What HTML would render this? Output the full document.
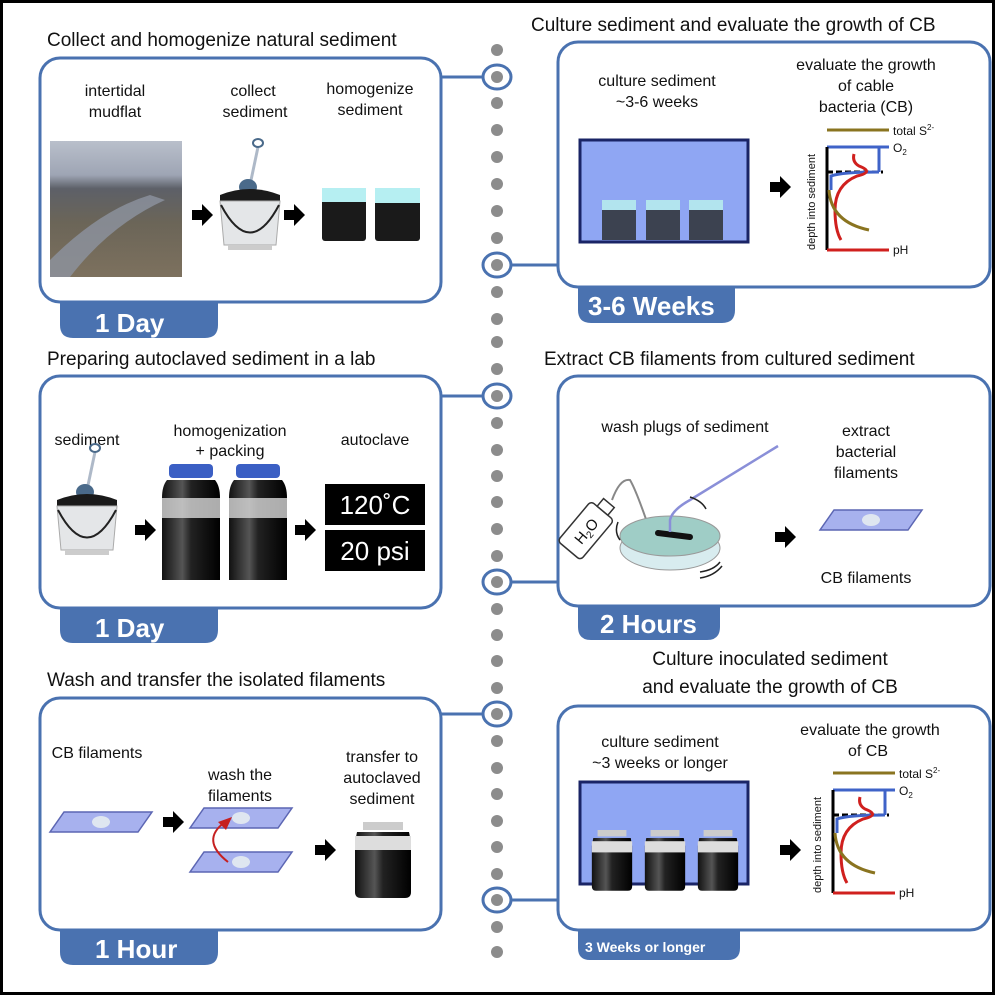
<!DOCTYPE html>
<html><head><meta charset="utf-8"><style>
html,body{margin:0;padding:0;background:#fff}
svg{display:block}
text{font-family:"Liberation Sans",Arial,sans-serif;fill:#111}
</style></head><body>
<svg width="996" height="996" viewBox="0 0 996 996" xmlns="http://www.w3.org/2000/svg">
<defs>
<linearGradient id="photo" x1="0" y1="0" x2="0" y2="1">
<stop offset="0" stop-color="#b9bfcb"/><stop offset="0.25" stop-color="#9ea5b4"/><stop offset="0.35" stop-color="#5d6068"/><stop offset="0.6" stop-color="#6b6558"/><stop offset="1" stop-color="#7d715e"/></linearGradient>
<linearGradient id="jarg" x1="0" y1="0" x2="1" y2="0"><stop offset="0" stop-color="#111"/><stop offset="0.35" stop-color="#555"/><stop offset="0.5" stop-color="#222"/><stop offset="1" stop-color="#000"/></linearGradient>
<g id="bucket">
<line x1="8" y1="-58" x2="0" y2="-20" stroke="#aeb9c8" stroke-width="3"/>
<ellipse cx="8" cy="-62" rx="5" ry="4" fill="none" stroke="#4a6a8a" stroke-width="2"/>
<ellipse cx="-2" cy="-18" rx="9" ry="8" fill="#4a6a8a"/>
<path d="M-30,-10 Q0,-22 30,-10 L30,-4 L-30,-4Z" fill="#1a1a1a"/>
<path d="M-30,-4 L30,-4 L26,40 L-26,40Z" fill="#e4e6e8" stroke="#aaa"/>
<path d="M-29,0 Q0,55 29,0" fill="none" stroke="#222" stroke-width="2"/>
<rect x="-22" y="40" width="44" height="5" fill="#ccc"/>
</g>
<g id="bottle">
<rect x="-22" y="0" width="44" height="14" rx="4" fill="#3b5fc4"/>
<path d="M-24,16 L24,16 Q29,22 29,34 L29,116 L-29,116 L-29,34 Q-29,22 -24,16Z" fill="url(#jarg)"/>
<rect x="-29" y="34" width="58" height="20" fill="#d8d8d8" opacity="0.8"/>
</g>
<g id="jar">
<rect x="-20" y="0" width="40" height="8" fill="#ccc"/>
<path d="M-26,10 L26,10 L28,20 L28,70 Q28,76 22,76 L-22,76 Q-28,76 -28,70 L-28,20Z" fill="url(#jarg)"/>
<rect x="-28" y="14" width="56" height="14" fill="#ddd"/>
</g>
<g id="slide">
<path d="M14,0 L102,0 L88,20 L0,20Z" fill="#a7b1ee" stroke="#5c66b3" stroke-width="1.5"/>
<ellipse cx="51" cy="10" rx="9" ry="6" fill="#dfe6f0"/>
</g>
<g id="arrow"><path d="M0,-5 L10,-5 L10,-11 L21,0 L10,11 L10,5 L0,5Z" fill="#000"/></g>
<g id="graph">
<line x1="0" y1="0" x2="62" y2="0" stroke="#8a7420" stroke-width="3"/>
<text x="66" y="5" font-size="12">total S<tspan font-size="8" dy="-5">2-</tspan></text>
<path d="M0,17 L62,17 M52,17 L52,42" stroke="#3f63c8" stroke-width="3" fill="none"/>
<text x="66" y="22" font-size="12">O<tspan font-size="8" dy="3">2</tspan></text>
<line x1="0" y1="17" x2="0" y2="120" stroke="#000" stroke-width="3"/>
<line x1="0" y1="42" x2="56" y2="42" stroke="#000" stroke-width="3" stroke-dasharray="6,3"/>
<path d="M52,42 Q15,42 4,46 L4,60" stroke="#3f63c8" stroke-width="3" fill="none"/>
<path d="M27,24 Q25,32 32,36 Q48,42 30,46 Q8,55 8,80 Q8,100 14,110" stroke="#d0201e" stroke-width="3" fill="none"/>
<path d="M2,60 Q4,92 42,100" stroke="#8a7420" stroke-width="3" fill="none"/>
<line x1="0" y1="120" x2="62" y2="120" stroke="#d0201e" stroke-width="3"/>
<text x="66" y="124" font-size="12">pH</text>
<text transform="translate(-12,120) rotate(-90)" font-size="11">depth into sediment</text>
</g>
<g id="tank">
<rect x="0" y="0" width="168" height="102" fill="#8fa6f3" stroke="#1a2466" stroke-width="3"/>
</g>
</defs>

<rect x="1.5" y="1.5" width="992" height="992" fill="none" stroke="#000" stroke-width="3"/>

<g fill="#8c8c8c">
<circle cx="497" cy="50" r="6"/><circle cx="497" cy="77" r="6"/><circle cx="497" cy="103" r="6"/><circle cx="497" cy="130" r="6"/><circle cx="497" cy="157" r="6"/><circle cx="497" cy="184" r="6"/><circle cx="497" cy="211" r="6"/><circle cx="497" cy="238" r="6"/><circle cx="497" cy="265" r="6"/><circle cx="497" cy="292" r="6"/><circle cx="497" cy="319" r="6"/><circle cx="497" cy="342" r="6"/><circle cx="497" cy="369" r="6"/><circle cx="497" cy="396" r="6"/><circle cx="497" cy="423" r="6"/><circle cx="497" cy="450" r="6"/><circle cx="497" cy="476" r="6"/><circle cx="497" cy="502" r="6"/><circle cx="497" cy="529" r="6"/><circle cx="497" cy="556" r="6"/><circle cx="497" cy="582" r="6"/><circle cx="497" cy="609" r="6"/><circle cx="497" cy="635" r="6"/><circle cx="497" cy="661" r="6"/><circle cx="497" cy="688" r="6"/><circle cx="497" cy="714" r="6"/><circle cx="497" cy="741" r="6"/><circle cx="497" cy="768" r="6"/><circle cx="497" cy="794" r="6"/><circle cx="497" cy="821" r="6"/><circle cx="497" cy="847" r="6"/><circle cx="497" cy="874" r="6"/><circle cx="497" cy="900" r="6"/><circle cx="497" cy="927" r="6"/><circle cx="497" cy="952" r="6"/>
</g>
<g fill="none" stroke="#4a72b0" stroke-width="3">
<ellipse cx="497" cy="77" rx="14" ry="12"/><ellipse cx="497" cy="265" rx="14" ry="12"/>
<ellipse cx="497" cy="396" rx="14" ry="12"/><ellipse cx="497" cy="582" rx="14" ry="12"/>
<ellipse cx="497" cy="714" rx="14" ry="12"/><ellipse cx="497" cy="900" rx="14" ry="12"/>
<line x1="441" y1="77" x2="483" y2="77"/><line x1="511" y1="265" x2="558" y2="265"/>
<line x1="441" y1="396" x2="483" y2="396"/><line x1="511" y1="582" x2="558" y2="582"/>
<line x1="441" y1="714" x2="483" y2="714"/><line x1="511" y1="900" x2="558" y2="900"/>
</g>

<g fill="#4a72b0">
<path d="M60,302 L218,302 L218,325 Q218,338 205,338 L73,338 Q60,338 60,325Z"/>
<path d="M578,287 L735,287 L735,310 Q735,323 722,323 L591,323 Q578,323 578,310Z"/>
<path d="M60,608 L218,608 L218,630 Q218,643 205,643 L73,643 Q60,643 60,630Z"/>
<path d="M578,606 L720,606 L720,627 Q720,640 707,640 L591,640 Q578,640 578,627Z"/>
<path d="M60,930 L218,930 L218,952 Q218,965 205,965 L73,965 Q60,965 60,952Z"/>
<path d="M578,930 L740,930 L740,948 Q740,960 728,960 L590,960 Q578,960 578,948Z"/>
</g>
<g font-weight="bold">
<text x="95" y="332" font-size="26" style="fill:#fff">1 Day</text>
<text x="588" y="315" font-size="26" style="fill:#fff">3-6 Weeks</text>
<text x="95" y="637" font-size="26" style="fill:#fff">1 Day</text>
<text x="600" y="633" font-size="26" style="fill:#fff">2 Hours</text>
<text x="95" y="958" font-size="26" style="fill:#fff">1 Hour</text>
<text x="585" y="952" font-size="14" style="fill:#fff">3 Weeks or longer</text>
</g>

<g fill="#fff" stroke="#4a72b0" stroke-width="3">
<rect x="40" y="58" width="401" height="244" rx="20"/>
<rect x="558" y="42" width="432" height="245" rx="20"/>
<rect x="40" y="376" width="401" height="232" rx="20"/>
<rect x="558" y="376" width="432" height="230" rx="20"/>
<rect x="40" y="698" width="401" height="232" rx="20"/>
<rect x="558" y="706" width="432" height="224" rx="20"/>
</g>

<g font-size="19">
<text x="47" y="46">Collect and homogenize natural sediment</text>
<text x="531" y="31">Culture sediment and evaluate the growth of CB</text>
<text x="47" y="365">Preparing autoclaved sediment in a lab</text>
<text x="544" y="365">Extract CB filaments from cultured sediment</text>
<text x="47" y="686">Wash and transfer the isolated filaments</text>
<text x="770" y="665" text-anchor="middle">Culture inoculated sediment</text>
<text x="770" y="693" text-anchor="middle">and evaluate the growth of CB</text>
</g>

<g font-size="16" text-anchor="middle">
<text x="115" y="96">intertidal</text><text x="115" y="117">mudflat</text>
<text x="253" y="96">collect</text><text x="255" y="117">sediment</text>
<text x="370" y="94">homogenize</text><text x="370" y="115">sediment</text>
<text x="657" y="86">culture sediment</text><text x="657" y="107">~3-6 weeks</text>
<text x="866" y="70">evaluate the growth</text><text x="866" y="91">of cable</text><text x="866" y="112">bacteria (CB)</text>
<text x="665" y="163" font-size="17">oxygenated</text><text x="665" y="184" font-size="17">seawater</text>
<text x="87" y="445">sediment</text>
<text x="230" y="436">homogenization</text><text x="230" y="456">+ packing</text>
<text x="375" y="445">autoclave</text>
<text x="685" y="432">wash plugs of sediment</text>
<text x="866" y="436">extract</text><text x="866" y="457">bacterial</text><text x="866" y="478">filaments</text>
<text x="866" y="583">CB filaments</text>
<text x="97" y="758">CB filaments</text>
<text x="240" y="780">wash the</text><text x="240" y="801">filaments</text>
<text x="382" y="762">transfer to</text><text x="382" y="783">autoclaved</text><text x="382" y="804">sediment</text>
<text x="660" y="747">culture sediment</text><text x="660" y="768">~3 weeks or longer</text>
<text x="870" y="735">evaluate the growth</text><text x="868" y="756">of CB</text>
<text x="665" y="806" font-size="17">oxygenated</text><text x="665" y="827" font-size="17">seawater</text>
</g>

<rect x="50" y="141" width="132" height="136" fill="url(#photo)"/>
<path d="M50,260 Q100,210 150,195 L165,200 Q110,225 70,277 L50,277Z" fill="#8d93a0" opacity="0.8"/>
<use href="#arrow" x="192" y="215"/>
<use href="#bucket" x="250" y="205"/>
<use href="#arrow" x="284" y="215"/>
<rect x="322" y="188" width="44" height="53" rx="3" fill="#1a1a1a"/><rect x="322" y="188" width="44" height="14" fill="#b6eff2"/>
<rect x="375" y="188" width="45" height="53" rx="3" fill="#1a1a1a"/><rect x="375" y="188" width="45" height="15" fill="#b6eff2"/>

<use href="#tank" x="580" y="140"/>
<g fill="#3c4250"><rect x="602" y="200" width="34" height="40"/><rect x="646" y="200" width="34" height="40"/><rect x="689" y="200" width="34" height="40"/></g>
<g fill="#b2e4ee"><rect x="602" y="200" width="34" height="10"/><rect x="646" y="200" width="34" height="10"/><rect x="689" y="200" width="34" height="10"/></g>
<use href="#arrow" x="770" y="187"/>
<use href="#graph" x="827" y="130"/>

<use href="#bucket" x="87" y="510"/>
<use href="#arrow" x="135" y="530"/>
<use href="#bottle" x="191" y="464"/>
<use href="#bottle" x="258" y="464"/>
<use href="#arrow" x="295" y="530"/>
<rect x="325" y="484" width="100" height="41" fill="#000"/>
<rect x="325" y="530" width="100" height="41" fill="#000"/>
<text x="375" y="514" font-size="26" text-anchor="middle" style="fill:#fff">120˚C</text>
<text x="375" y="560" font-size="26" text-anchor="middle" style="fill:#fff">20 psi</text>

<g transform="translate(585,530) rotate(-50)">
<rect x="-26" y="-14" width="52" height="30" rx="4" fill="#fff" stroke="#333" stroke-width="1.5"/>
<rect x="26" y="-6" width="10" height="14" fill="#fff" stroke="#333" stroke-width="1.5"/>
<text x="0" y="7" font-size="15" text-anchor="middle">H<tspan font-size="10" dy="3">2</tspan><tspan dy="-3">O</tspan></text>
</g>
<path d="M612,500 Q620,478 630,480 Q636,490 648,525" fill="none" stroke="#888" stroke-width="2"/>
<ellipse cx="670" cy="548" rx="50" ry="22" fill="#d8ecef" stroke="#999"/>
<ellipse cx="670" cy="536" rx="50" ry="20" fill="#9fcdc6" stroke="#999"/>
<path d="M658,533 L690,537" stroke="#111" stroke-width="6" stroke-linecap="round"/>
<path d="M670,532 L670,520 Q672,510 690,500 L778,446" fill="none" stroke="#8a8fd8" stroke-width="2.5"/>
<path d="M618,522 q-4,10 2,18 M690,497 q12,4 16,12 M700,572 q14,-2 20,-10 M700,578 q14,-2 22,-12" fill="none" stroke="#222" stroke-width="1.5"/>
<use href="#arrow" x="775" y="537"/>
<use href="#slide" x="820" y="510"/>

<use href="#slide" x="50" y="812"/>
<use href="#arrow" x="163" y="822"/>
<use href="#slide" x="190" y="808"/>
<use href="#slide" x="190" y="852"/>
<path d="M228,862 Q200,840 225,822" fill="none" stroke="#c62020" stroke-width="2"/>
<path d="M218,822 L232,817 L226,830Z" fill="#c62020"/>
<use href="#arrow" x="315" y="850"/>
<use href="#jar" x="383" y="822"/>

<use href="#tank" x="580" y="782"/>
<use href="#jar" x="612" y="830" transform="translate(612,830) scale(0.72,0.8) translate(-612,-830)"/>
<use href="#jar" x="665" y="830" transform="translate(665,830) scale(0.72,0.8) translate(-665,-830)"/>
<use href="#jar" x="718" y="830" transform="translate(718,830) scale(0.72,0.8) translate(-718,-830)"/>
<use href="#arrow" x="780" y="850"/>
<use href="#graph" x="833" y="773"/>
</svg>
</body></html>
